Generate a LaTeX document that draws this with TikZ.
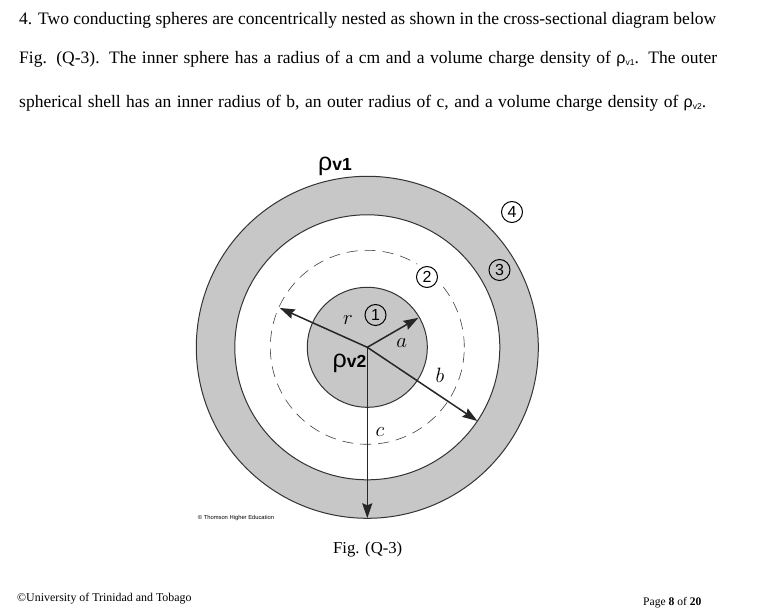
\documentclass[tikz,border=0pt]{standalone}
\usepackage{fontspec}
\setmainfont{Liberation Serif}
\newfontfamily\labelfont{Liberation Sans}
\usetikzlibrary{arrows.meta,calc}
\definecolor{shellgray}{gray}{0.78}
\tikzset{
  line/.style={line width=1pt,color=black!80},
  dim/.style={line width=1.5pt,color=black!85,-{Stealth[length=15pt,width=10pt,inset=2pt]}},
  num/.style={circle,draw,line width=1pt,inner sep=0pt,minimum size=21pt,font=\labelfont\fontsize{16}{16}\selectfont},
  para/.style={anchor=base west,inner sep=0pt,font=\fontsize{17.5}{18}\selectfont},
  sym/.style={inner sep=0pt,font=\fontsize{20}{20}\selectfont}
}
\newcommand{\rhobig}[1]{{\labelfont\fontsize{25}{25}\selectfont ρ\fontsize{17.5}{17.5}\selectfont\bfseries #1}}
\newcommand{\rhosmall}[1]{{\labelfont\fontsize{16}{16}\selectfont ρ\raisebox{-2pt}{\fontsize{8.5}{8.5}\selectfont #1}}}
\begin{document}
\begin{tikzpicture}[x=1,y=1]
\useasboundingbox (0,0) rectangle (777,608);
\fill[white] (0,0) rectangle (777,608);

% text above
\node[para] (line1) at (19,583) {\makebox[697pt][s]{4. Two conducting spheres are concentrically nested as shown in the cross-sectional diagram below}};
\node[para] (line2) at (19,544) {\makebox[698pt][s]{Fig. (Q-3). The inner sphere has a radius of a cm and a volume charge density of \rhosmall{v1}. The outer}};
\node[para] (line3) at (19,500) {\makebox[687pt][s]{spherical shell has an inner radius of b, an outer radius of c, and a volume charge density of \rhosmall{v2}.}};

% spheres
\coordinate (o) at (367.3,260.7);
\fill[shellgray,even odd rule] (o) circle (171) (o) circle (132.5);
\draw[line] (o) circle (171);
\draw[line] (o) circle (132.5);
\draw[line width=0.6pt,color=black!75,dash pattern=on 11pt off 7pt] (o) circle (97);
\draw[line,fill=shellgray] (o) circle (60);

% radii
\coordinate (rend) at ($(o)+(155.8:96)$);
\coordinate (aend) at ($(o)+(30:59)$);
\coordinate (bend) at ($(o)+(-33.8:132.5)$);
\coordinate (cend) at ($(o)+(-90:171)$);
\draw[dim] (o) -- (rend);
\draw[dim] (o) -- (aend);
\draw[dim] (o) -- (bend);
\draw[dim] (o) -- (cend);

% labels
\node[sym] (r) at (348,288) {$r$};
\node[sym] (a) at (401.7,265) {$a$};
\node[sym] (b) at (440,233) {$b$};
\node[sym] (c) at (380,176) {$c$};
\node[num] (n1) at (375.5,293) {1};
\node[circle,fill=white,minimum size=32pt,inner sep=0pt] (gap) at (427,331) {};
\node[num] (n2) at (427,331) {2};
\node[num] (n3) at (499.5,338) {3};
\node[num] (n4) at (512,396) {4};
\node[inner sep=0pt] (rho1) at (335,442) {\rhobig{v1}};
\node[inner sep=0pt] (rho2) at (349.5,245) {\rhobig{v2}};
\node[inner sep=0pt,font=\labelfont\fontsize{5.8}{6}\selectfont] (credit) at (236,90) {© Thomson Higher Education};

% caption and footer
\node[para,font=\fontsize{16.7}{17}\selectfont] (caption) at (333,54) {Fig. (Q-3)};
\node[para,font=\fontsize{11.9}{13}\selectfont] (foot) at (17,6.5) {©University of Trinidad and Tobago};
\node[para,font=\fontsize{11.6}{12}\selectfont] (page) at (643,2) {Page \textbf{8} of \textbf{20}};
\end{tikzpicture}
\end{document}
